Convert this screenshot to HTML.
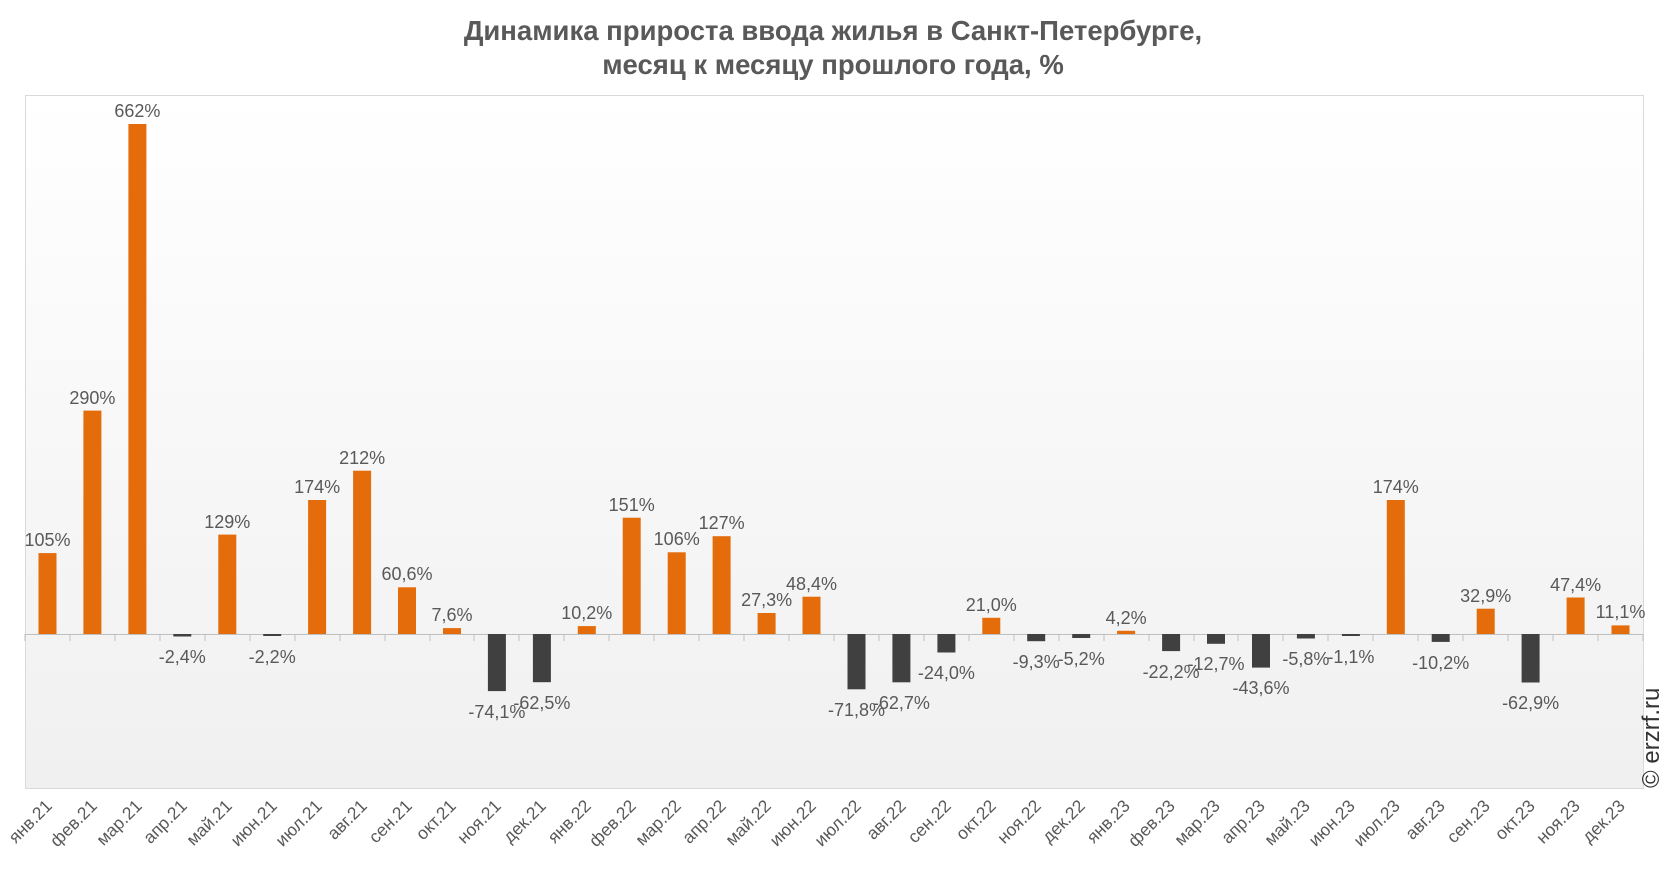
<!DOCTYPE html>
<html><head><meta charset="utf-8"><style>
body{margin:0;background:#fff;width:1666px;height:872px;overflow:hidden}
svg{display:block;font-family:"Liberation Sans",sans-serif}
.v{font-size:18px;fill:#595959;text-anchor:middle}
.x{font-size:17.5px;fill:#595959;text-anchor:end}
.o{fill:#e46c0a}.d{fill:#404040}
</style></head><body>
<svg width="1666" height="872" viewBox="0 0 1666 872">
<defs><linearGradient id="g" x1="0" y1="0" x2="0" y2="1"><stop offset="0" stop-color="#fff"/><stop offset="1" stop-color="#f0f0f0"/></linearGradient></defs>
<text x="833" y="40" text-anchor="middle" font-size="27.5" font-weight="bold" fill="#595959">Динамика прироста ввода жилья в Санкт-Петербурге,</text>
<text x="833" y="74" text-anchor="middle" font-size="27.5" font-weight="bold" fill="#595959">месяц к месяцу прошлого года, %</text>
<rect x="25.5" y="95.5" width="1618" height="693" fill="url(#g)" stroke="#d9d9d9"/>
<line x1="25" y1="634.5" x2="1643" y2="634.5" stroke="#bfbfbf"/>
<g stroke="#bfbfbf">
<path d="M25 634v7M70 634v7M115 634v7M160 634v7M205 634v7M250 634v7M295 634v7M340 634v7M385 634v7M430 634v7M474 634v7M519 634v7M564 634v7M609 634v7M654 634v7M699 634v7M744 634v7M789 634v7M834 634v7M879 634v7M924 634v7M969 634v7M1014 634v7M1059 634v7M1104 634v7M1149 634v7M1194 634v7M1238 634v7M1283 634v7M1328 634v7M1373 634v7M1418 634v7M1463 634v7M1508 634v7M1553 634v7M1598 634v7M1643 634v7"/>
</g>
<g>
<rect class="o" x="38.5" y="553.1" width="18" height="80.9"/>
<rect class="o" x="83.4" y="410.6" width="18" height="223.4"/>
<rect class="o" x="128.4" y="124" width="18" height="510"/>
<rect class="d" x="173.3" y="634" width="18" height="2.5"/>
<rect class="o" x="218.3" y="534.6" width="18" height="99.4"/>
<rect class="d" x="263.2" y="634" width="18" height="2"/>
<rect class="o" x="308.1" y="500" width="18" height="134"/>
<rect class="o" x="353.1" y="470.7" width="18" height="163.3"/>
<rect class="o" x="398" y="587.3" width="18" height="46.7"/>
<rect class="o" x="443" y="628.1" width="18" height="5.9"/>
<rect class="d" x="487.9" y="634" width="18" height="57.1"/>
<rect class="d" x="532.9" y="634" width="18" height="48.2"/>
<rect class="o" x="577.8" y="626.1" width="18" height="7.9"/>
<rect class="o" x="622.7" y="517.7" width="18" height="116.3"/>
<rect class="o" x="667.7" y="552.3" width="18" height="81.7"/>
<rect class="o" x="712.6" y="536.2" width="18" height="97.8"/>
<rect class="o" x="757.6" y="613" width="18" height="21"/>
<rect class="o" x="802.5" y="596.7" width="18" height="37.3"/>
<rect class="d" x="847.5" y="634" width="18" height="55.3"/>
<rect class="d" x="892.4" y="634" width="18" height="48.3"/>
<rect class="d" x="937.4" y="634" width="18" height="18.5"/>
<rect class="o" x="982.3" y="617.8" width="18" height="16.2"/>
<rect class="d" x="1027.2" y="634" width="18" height="7.2"/>
<rect class="d" x="1072.2" y="634" width="18" height="4"/>
<rect class="o" x="1117.1" y="630.8" width="18" height="3.2"/>
<rect class="d" x="1162.1" y="634" width="18" height="17.1"/>
<rect class="d" x="1207" y="634" width="18" height="9.8"/>
<rect class="d" x="1252" y="634" width="18" height="33.6"/>
<rect class="d" x="1296.9" y="634" width="18" height="4.5"/>
<rect class="d" x="1341.9" y="634" width="18" height="2"/>
<rect class="o" x="1386.8" y="500" width="18" height="134"/>
<rect class="d" x="1431.7" y="634" width="18" height="7.9"/>
<rect class="o" x="1476.7" y="608.7" width="18" height="25.3"/>
<rect class="d" x="1521.6" y="634" width="18" height="48.5"/>
<rect class="o" x="1566.6" y="597.5" width="18" height="36.5"/>
<rect class="o" x="1611.5" y="625.4" width="18" height="8.6"/>
</g>
<g class="v">
<text x="47.5" y="546">105%</text>
<text x="92.4" y="404">290%</text>
<text x="137.4" y="117">662%</text>
<text x="182.3" y="663">-2,4%</text>
<text x="227.3" y="528">129%</text>
<text x="272.2" y="663">-2,2%</text>
<text x="317.1" y="493">174%</text>
<text x="362.1" y="464">212%</text>
<text x="407" y="580">60,6%</text>
<text x="452" y="621">7,6%</text>
<text x="496.9" y="718">-74,1%</text>
<text x="541.9" y="709">-62,5%</text>
<text x="586.8" y="619">10,2%</text>
<text x="631.7" y="511">151%</text>
<text x="676.7" y="545">106%</text>
<text x="721.6" y="529">127%</text>
<text x="766.6" y="606">27,3%</text>
<text x="811.5" y="590">48,4%</text>
<text x="856.5" y="716">-71,8%</text>
<text x="901.4" y="709">-62,7%</text>
<text x="946.4" y="679">-24,0%</text>
<text x="991.3" y="611">21,0%</text>
<text x="1036.2" y="668">-9,3%</text>
<text x="1081.2" y="665">-5,2%</text>
<text x="1126.1" y="624">4,2%</text>
<text x="1171.1" y="678">-22,2%</text>
<text x="1216" y="670">-12,7%</text>
<text x="1261" y="694">-43,6%</text>
<text x="1305.9" y="665">-5,8%</text>
<text x="1350.9" y="663">-1,1%</text>
<text x="1395.8" y="493">174%</text>
<text x="1440.7" y="669">-10,2%</text>
<text x="1485.7" y="602">32,9%</text>
<text x="1530.6" y="709">-62,9%</text>
<text x="1575.6" y="591">47,4%</text>
<text x="1620.5" y="618">11,1%</text>
</g>
<g class="x">
<text transform="translate(53,807) rotate(-45)">янв.21</text>
<text transform="translate(98,807) rotate(-45)">фев.21</text>
<text transform="translate(143,807) rotate(-45)">мар.21</text>
<text transform="translate(188,807) rotate(-45)">апр.21</text>
<text transform="translate(233,807) rotate(-45)">май.21</text>
<text transform="translate(278,807) rotate(-45)">июн.21</text>
<text transform="translate(323,807) rotate(-45)">июл.21</text>
<text transform="translate(368,807) rotate(-45)">авг.21</text>
<text transform="translate(413,807) rotate(-45)">сен.21</text>
<text transform="translate(457,807) rotate(-45)">окт.21</text>
<text transform="translate(502,807) rotate(-45)">ноя.21</text>
<text transform="translate(547,807) rotate(-45)">дек.21</text>
<text transform="translate(592,807) rotate(-45)">янв.22</text>
<text transform="translate(637,807) rotate(-45)">фев.22</text>
<text transform="translate(682,807) rotate(-45)">мар.22</text>
<text transform="translate(727,807) rotate(-45)">апр.22</text>
<text transform="translate(772,807) rotate(-45)">май.22</text>
<text transform="translate(817,807) rotate(-45)">июн.22</text>
<text transform="translate(862,807) rotate(-45)">июл.22</text>
<text transform="translate(907,807) rotate(-45)">авг.22</text>
<text transform="translate(952,807) rotate(-45)">сен.22</text>
<text transform="translate(997,807) rotate(-45)">окт.22</text>
<text transform="translate(1042,807) rotate(-45)">ноя.22</text>
<text transform="translate(1086,807) rotate(-45)">дек.22</text>
<text transform="translate(1131,807) rotate(-45)">янв.23</text>
<text transform="translate(1176,807) rotate(-45)">фев.23</text>
<text transform="translate(1221,807) rotate(-45)">мар.23</text>
<text transform="translate(1266,807) rotate(-45)">апр.23</text>
<text transform="translate(1311,807) rotate(-45)">май.23</text>
<text transform="translate(1356,807) rotate(-45)">июн.23</text>
<text transform="translate(1401,807) rotate(-45)">июл.23</text>
<text transform="translate(1446,807) rotate(-45)">авг.23</text>
<text transform="translate(1491,807) rotate(-45)">сен.23</text>
<text transform="translate(1536,807) rotate(-45)">окт.23</text>
<text transform="translate(1581,807) rotate(-45)">ноя.23</text>
<text transform="translate(1626,807) rotate(-45)">дек.23</text>
</g>
<text transform="translate(1659,788) rotate(-90)" font-size="24" fill="#333">© erzrf.ru</text>
</svg>
</body></html>
